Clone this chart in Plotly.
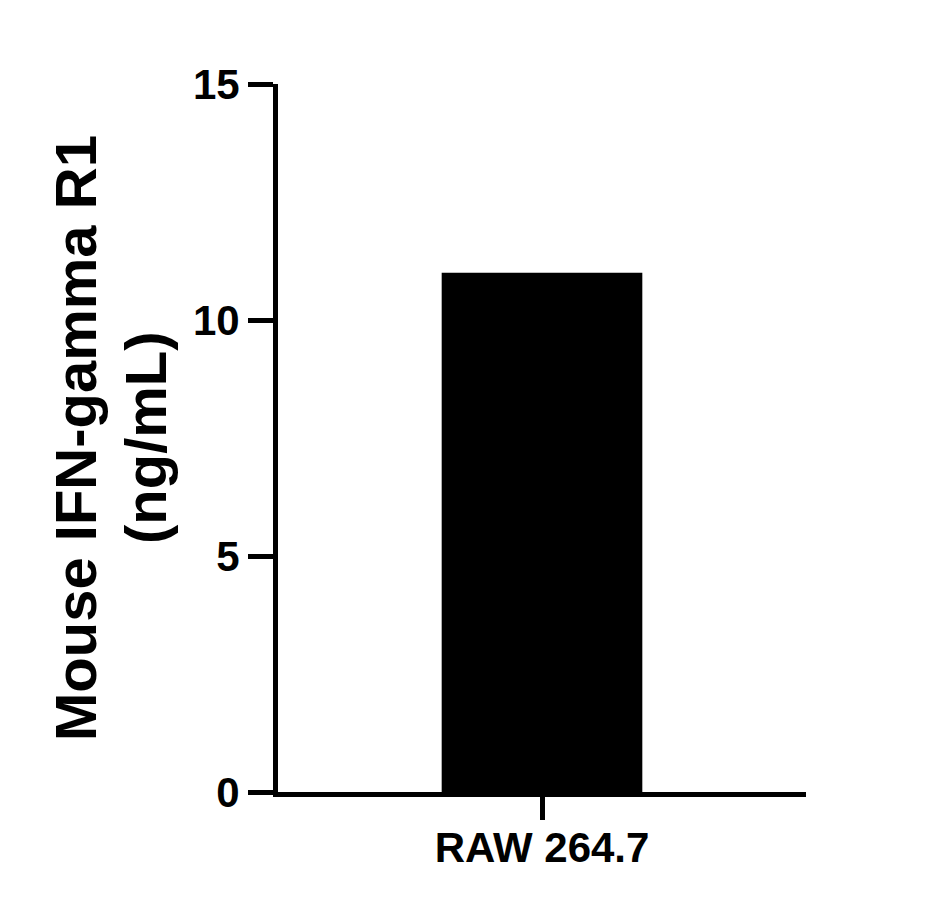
import plotly.graph_objects as go

# data
categories = ["RAW 264.7"]
values = [11.0]
y_ticks = [0, 5, 10, 15]
y_title = ["Mouse IFN-gamma R1", "(ng/mL)"]

FONT = "Liberation Sans, Arial, sans-serif"

fig = go.Figure()

fig.add_trace(
    go.Bar(
        x=categories,
        y=values,
        width=0.38,
        marker=dict(color="black", line=dict(width=0)),
    )
)

fig.update_layout(
    width=938,
    height=910,
    margin=dict(l=270, r=140, t=76, b=126),
    plot_bgcolor="white",
    paper_bgcolor="white",
    showlegend=False,
    font=dict(family=FONT, color="black", size=42, weight="bold"),
)

fig.update_xaxes(
    range=[-0.5, 0.5],
    showline=True,
    linecolor="black",
    linewidth=5,
    showgrid=False,
    zeroline=False,
    ticks="outside",
    ticklen=23,
    tickwidth=5,
    tickcolor="black",
    ticklabelstandoff=-8,
    tickfont=dict(family=FONT, size=42, weight="bold"),
)

fig.update_yaxes(
    range=[0, 15],
    tickvals=y_ticks,
    showline=True,
    linecolor="black",
    linewidth=5,
    showgrid=False,
    zeroline=False,
    ticks="outside",
    ticklen=25,
    tickwidth=5,
    tickcolor="black",
    tickfont=dict(family=FONT, size=42, weight="bold"),
)

# two-line y title, set by hand so the line spacing matches
for line, shift in zip(y_title, [-203, -133]):
    fig.add_annotation(
        text=line,
        textangle=-90,
        xref="paper", yref="paper",
        x=0, y=0.5,
        xshift=shift,
        xanchor="center", yanchor="middle",
        showarrow=False,
        font=dict(family=FONT, size=58, weight="bold", color="black"),
    )

fig.write_html("out.html")
